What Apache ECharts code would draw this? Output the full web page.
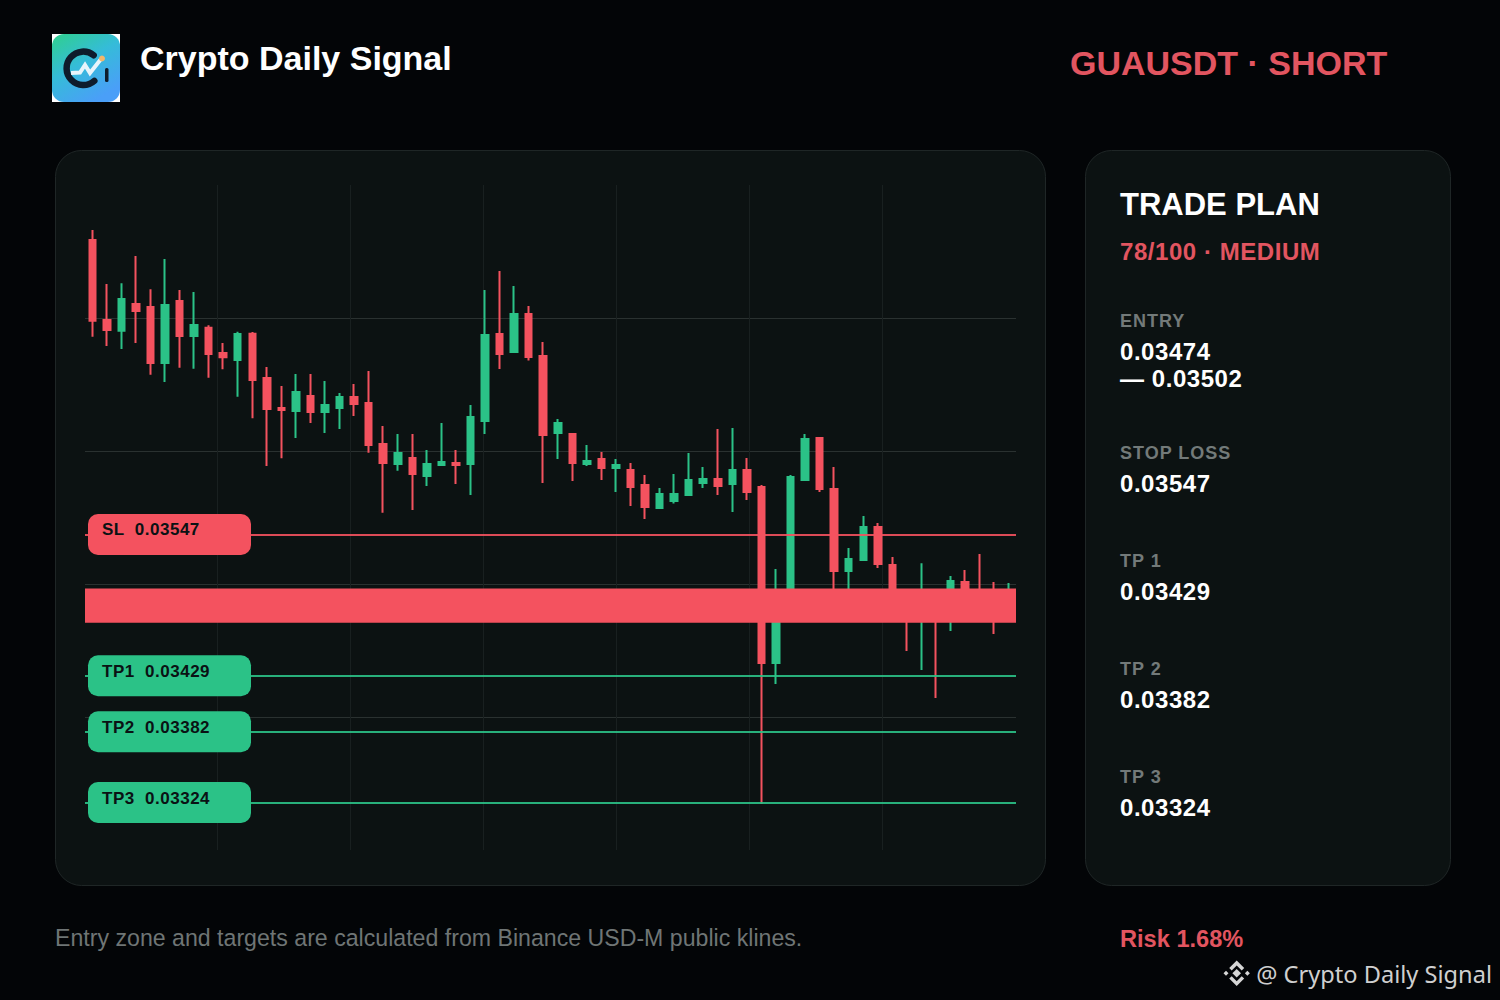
<!DOCTYPE html>
<html><head><meta charset="utf-8">
<style>
html,body{margin:0;padding:0;background:#030507;overflow:hidden}#c{width:1500px;height:1000px}
svg text[style*="bold 24px"]{letter-spacing:.55px}
svg text[style*="bold 18px"]{letter-spacing:1px}
svg text[style*="bold 17px"]{letter-spacing:.5px}
</style>
<script src="https://cdn.jsdelivr.net/npm/echarts@6/dist/echarts.min.js"></script>
</head><body><div id="c"></div>
<script>
// ---- chart data (prices) ----
const opens = [0.037925,0.037259,0.037170,0.037392,0.037367,0.036901,0.037417,0.037126,0.037195,0.036984,0.036926,0.037145,0.036776,0.036527,0.036502,0.036627,0.036493,0.036527,0.036618,0.036568,0.036227,0.036061,0.036111,0.035961,0.036052,0.036069,0.036061,0.036419,0.037142,0.036993,0.037309,0.036959,0.036319,0.036310,0.036061,0.036102,0.036027,0.036011,0.035886,0.035695,0.035753,0.035803,0.035903,0.035936,0.035894,0.036011,0.035869,0.034405,0.034874,0.035928,0.036277,0.035853,0.035170,0.035262,0.035537,0.035220,0.034957,0.034818,0.034985,0.034874,0.035079,0.034998,0.034985,0.034846];
const closes = [0.037253,0.037176,0.037434,0.037334,0.036901,0.037384,0.037126,0.037217,0.036976,0.036948,0.037143,0.036760,0.036518,0.036510,0.036660,0.036493,0.036552,0.036618,0.036560,0.036219,0.036069,0.036152,0.035978,0.036061,0.036077,0.036052,0.036452,0.037134,0.036976,0.037309,0.036951,0.036302,0.036402,0.036069,0.036086,0.036027,0.036052,0.035869,0.035703,0.035811,0.035811,0.035928,0.035936,0.035878,0.036011,0.035828,0.034405,0.034874,0.035953,0.036269,0.035853,0.035170,0.035270,0.035537,0.035229,0.034874,0.034790,0.034929,0.034790,0.035087,0.034846,0.034846,0.034804,0.034985];
const lows = [0.037120,0.037043,0.037018,0.037068,0.036804,0.036743,0.036862,0.036854,0.036779,0.036849,0.036621,0.036441,0.036044,0.036108,0.036277,0.036402,0.036319,0.036352,0.036460,0.036155,0.035656,0.036005,0.035678,0.035878,0.036050,0.035894,0.035803,0.036310,0.036851,0.036993,0.036921,0.035903,0.036102,0.035919,0.036044,0.035928,0.035828,0.035711,0.035603,0.035695,0.035731,0.035803,0.035861,0.035803,0.035661,0.035761,0.033232,0.034230,0.034874,0.035928,0.035828,0.034929,0.034929,0.035262,0.035195,0.034763,0.034505,0.034347,0.034114,0.034671,0.034763,0.034777,0.034646,0.034818];
const highs = [0.038008,0.037559,0.037564,0.037792,0.037514,0.037767,0.037509,0.037492,0.037215,0.037068,0.037162,0.037159,0.036868,0.036710,0.036810,0.036810,0.036751,0.036652,0.036726,0.036835,0.036377,0.036310,0.036310,0.036177,0.036402,0.036177,0.036552,0.037509,0.037667,0.037542,0.037375,0.037076,0.036435,0.036310,0.036219,0.036161,0.036102,0.036069,0.035969,0.035861,0.035978,0.036152,0.036036,0.036352,0.036360,0.036111,0.035886,0.035187,0.035969,0.036310,0.036277,0.036036,0.035362,0.035628,0.035570,0.035287,0.034985,0.035234,0.035012,0.035129,0.035179,0.035312,0.035079,0.035071];
const categories = opens.map((_, i) => String(i + 1));
const levelNames = ['SL', 'TP1', 'TP2', 'TP3'];
const levelPrices = [0.03547, 0.034295, 0.033829, 0.03324];
const levelTexts = ['0.03547', '0.03429', '0.03382', '0.03324'];
const entryLow = 0.03474, entryHigh = 0.035024;
const priceMin = 0.032849, priceMax = 0.038382;

const UP = '#2bc287', DOWN = '#f4525f', TEXTRED = '#e25560', FONT = '"Liberation Sans", Arial, sans-serif';
const labelColor = n => n === 'SL' ? DOWN : UP;

function t(text, x, y, size, fill, weight, font, align) {
  return { type: 'text', z: 10, silent: true, style: { text, x, y, fill, align: align || 'left', verticalAlign: 'middle',
    font: (weight || 'bold') + ' ' + size + 'px ' + (font || FONT) } };
}
const graphics = [
  { type: 'rect', z: -10, silent: true, shape: { x: 55.5, y: 150.5, width: 990, height: 735, r: 26 }, style: { fill: '#0c1212', stroke: '#1f2626', lineWidth: 1 } },
  { type: 'rect', z: -10, silent: true, shape: { x: 1085.5, y: 150.5, width: 365, height: 735, r: 26 }, style: { fill: '#0c1212', stroke: '#1f2626', lineWidth: 1 } },
  // logo
  { type: 'rect', z: 5, silent: true, shape: { x: 52, y: 34, width: 68, height: 68 }, style: { fill: '#ffffff' } },
  { type: 'rect', z: 6, silent: true, shape: { x: 52, y: 34, width: 68, height: 68, r: 12 }, style: { fill: { type: 'linear', x: 0, y: 0, x2: 0.6, y2: 1, colorStops: [{ offset: 0, color: '#2fd08c' }, { offset: 0.5, color: '#35bcd8' }, { offset: 1, color: '#4a9ff8' }] } } },
  { type: 'arc', z: 7, silent: true, shape: { cx: 83.3, cy: 68.3, r: 16.7, startAngle: -0.9, endAngle: 0.85, clockwise: false }, style: { stroke: '#0e1c2c', lineWidth: 6.5, fill: 'none', lineCap: 'round' } },
  { type: 'polyline', z: 8, silent: true, shape: { points: [[71, 73], [80, 72.5], [85, 65], [90, 73], [101, 59]] }, style: { stroke: '#e8f4fb', lineWidth: 4, fill: 'none' } },
  { type: 'circle', z: 9, silent: true, shape: { cx: 102, cy: 58.5, r: 3 }, style: { fill: '#f4b76a' } },
  { type: 'rect', z: 8, silent: true, shape: { x: 105, y: 68, width: 3.5, height: 14, r: 1.5 }, style: { fill: '#0e1c2c' } },
  // watermark diamond mark
  { type: 'polygon', z: 10, silent: true, shape: { points: [[1236.7, 969], [1241, 973.3], [1236.7, 977.6], [1232.4, 973.3]] }, style: { fill: '#d6d6d6' } },
  { type: 'polygon', z: 10, silent: true, shape: { points: [[1226, 970.8], [1228.5, 973.3], [1226, 975.8], [1223.5, 973.3]] }, style: { fill: '#d6d6d6' } },
  { type: 'polygon', z: 10, silent: true, shape: { points: [[1247.4, 970.8], [1249.9, 973.3], [1247.4, 975.8], [1244.9, 973.3]] }, style: { fill: '#d6d6d6' } },
  { type: 'polygon', z: 10, silent: true, shape: { points: [[1236.7, 960.5], [1244.2, 968], [1241.7, 970.4], [1236.7, 965.4], [1231.7, 970.4], [1229.2, 968]] }, style: { fill: '#d6d6d6' } },
  { type: 'polygon', z: 10, silent: true, shape: { points: [[1236.7, 986.1], [1244.2, 978.6], [1241.7, 976.2], [1236.7, 981.2], [1231.7, 976.2], [1229.2, 978.6]] }, style: { fill: '#d6d6d6' } },
  t('Crypto Daily Signal', 140, 57.5, 34, '#ffffff'),
  t('GUAUSDT · SHORT', 1070, 63, 34, TEXTRED),
  t('TRADE PLAN', 1120, 204, 31, '#ffffff'),
  t('78/100 · MEDIUM', 1120, 251, 24, TEXTRED),
  t('ENTRY', 1120, 321, 18, '#737a79'),
  t('0.03474', 1120, 351, 24, '#ffffff'),
  t('— 0.03502', 1120, 378, 24, '#ffffff'),
  t('STOP LOSS', 1120, 453, 18, '#737a79'),
  t('0.03547', 1120, 483, 24, '#ffffff'),
  t('TP 1', 1120, 561, 18, '#737a79'),
  t('0.03429', 1120, 591, 24, '#ffffff'),
  t('TP 2', 1120, 669, 18, '#737a79'),
  t('0.03382', 1120, 699, 24, '#ffffff'),
  t('TP 3', 1120, 777, 18, '#737a79'),
  t('0.03324', 1120, 807, 24, '#ffffff'),
  t('Entry zone and targets are calculated from Binance USD-M public klines.', 55, 938, 23.15, '#6f7575', 'normal'),
  t('Risk 1.68%', 1120, 938.5, 23.6, TEXTRED),
  t('@ Crypto Daily Signal', 1492, 973.5, 23.6, '#cfcfcf', 'normal', '"Noto Sans", sans-serif', 'right')
];

const hiddenAxisParts = { axisLine: { show: false }, axisTick: { show: false }, axisLabel: { show: false } };
const chart = echarts.init(document.getElementById('c'), null, { renderer: 'svg', width: 1500, height: 1000 });
chart.setOption({
  animation: false,
  backgroundColor: '#030507',
  graphic: graphics,
  grid: [
    { left: 85, top: 185, width: 931, height: 665 },
    { left: 84, top: 185, width: 931, height: 665 }
  ],
  xAxis: [
    { type: 'category', gridIndex: 0, data: categories, boundaryGap: true, ...hiddenAxisParts, splitLine: { show: false } },
    { type: 'value', gridIndex: 1, min: 0, max: 7, interval: 1, ...hiddenAxisParts,
      splitLine: { show: true, showMinLine: false, showMaxLine: false, lineStyle: { color: '#192020', width: 1 } } }
  ],
  yAxis: [
    { type: 'value', gridIndex: 0, min: priceMin, max: priceMax, ...hiddenAxisParts, splitLine: { show: false } },
    { type: 'value', gridIndex: 0, min: 0, max: 5, interval: 1, position: 'right', ...hiddenAxisParts,
      splitLine: { show: true, showMinLine: false, showMaxLine: false, lineStyle: { color: '#2a3130', width: 1 } } },
    { type: 'value', gridIndex: 1, min: 0, max: 1, ...hiddenAxisParts, splitLine: { show: false } }
  ],
  series: [
    { type: 'candlestick', xAxisIndex: 0, yAxisIndex: 0, z: 3, barWidth: 7,
      data: opens.map((o, i) => [o, closes[i], lows[i], highs[i]]),
      itemStyle: { color: UP, color0: DOWN, borderColor: UP, borderColor0: DOWN, borderWidth: 2 },
      markLine: { silent: true, symbol: 'none', precision: 6, z: 4, label: { show: false }, animation: false,
        data: levelPrices.map((p, i) => ({ yAxis: p, lineStyle: { color: labelColor(levelNames[i]), width: 2, type: 'solid', opacity: 0.9 } })) } },
    { type: 'line', xAxisIndex: 0, yAxisIndex: 0, z: 5, data: [], symbol: 'none',
      markArea: { silent: true, z: 5, itemStyle: { color: DOWN, opacity: 1 }, label: { show: false },
        data: [[{ yAxis: entryHigh }, { yAxis: entryLow }]] } },
    { type: 'custom', xAxisIndex: 0, yAxisIndex: 0, z: 6, silent: true, clip: false,
      data: levelPrices.map((p, i) => [0, p, levelNames[i], levelTexts[i]]),
      renderItem: (params, api) => {
        const y = api.coord([0, api.value(1)])[1];
        const x = params.coordSys.x + 3;
        const name = levelNames[params.dataIndex], val = levelTexts[params.dataIndex];
        return { type: 'group', children: [
          { type: 'rect', shape: { x, y: y - 21, width: 163, height: 41, r: 10 }, style: { fill: labelColor(name) } },
          { type: 'text', style: { text: name + '  ' + val, x: x + 14, y: y - 5, fill: '#0a1214', align: 'left', verticalAlign: 'middle', font: 'bold 17px ' + FONT } }
        ] };
      } }
  ]
});
</script></body></html>
